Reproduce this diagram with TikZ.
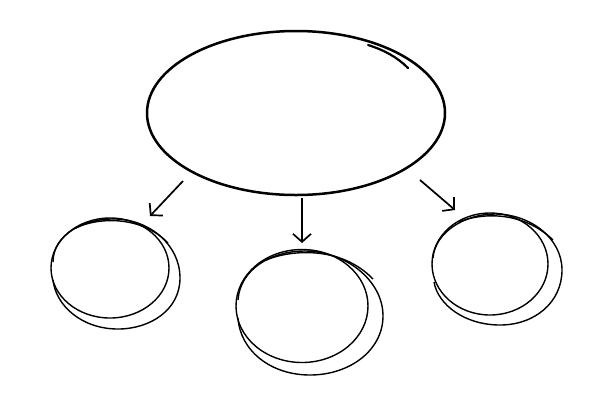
\documentclass[tikz,border=0pt]{standalone}
\usetikzlibrary{shapes.geometric,arrows.meta}
\begin{document}
\begin{tikzpicture}[x=1pt,y=-1pt,
  bigloop/.style={ellipse,draw,line width=2.5pt,inner sep=0pt},
  smallloop/.style={ellipse,draw,line width=1.4pt,inner sep=0pt},
  loopline/.style={line width=1.4pt},
  arr/.style={line width=1.7pt,-{Straight Barb[length=8pt,width=18pt,line width=1.7pt]}}]
\useasboundingbox[fill=white] (0,0) rectangle (612,408);
% main ellipse
\node[bigloop,minimum width=298pt,minimum height=164pt] (main) at (296,113) {};
\draw[line width=2.2pt,line cap=round] (368,45) .. controls (384,50) and (397,57) .. (408,68);
% left circle
\node[smallloop,minimum width=118pt,minimum height=100pt] (c1) at (110,268) {};
\draw[loopline] (53,262) .. controls (53,234) and (85,218) .. (116,219) .. controls (150,220) and (180,245) .. (180,278)
  .. controls (180,310) and (150,329) .. (118,329) .. controls (82,329) and (56,306) .. (53,280);
\draw[loopline] (76,228) .. controls (95,218) and (140,214) .. (168,243);
% middle circle
\node[smallloop,minimum width=132pt,minimum height=113pt] (c2) at (302,306) {};
\draw[loopline] (238,300) .. controls (240,270) and (270,251) .. (305,251) .. controls (345,251) and (383,280) .. (383,316)
  .. controls (383,350) and (350,375) .. (310,375) .. controls (270,375) and (240,350) .. (238,318);
\draw[loopline] (266,260) .. controls (290,250) and (340,245) .. (373,279);
% right circle
\node[smallloop,minimum width=116pt,minimum height=102pt] (c3) at (490,264) {};
\draw[loopline] (433,258) .. controls (435,232) and (465,214) .. (495,214) .. controls (530,214) and (562,238) .. (562,270)
  .. controls (562,302) and (535,325) .. (500,325) .. controls (465,325) and (438,305) .. (434,282);
\draw[loopline] (459,222) .. controls (480,213) and (522,210) .. (553,240);
% arrows
\coordinate (a1s) at (183,181); \coordinate (a1e) at (150,216);
\coordinate (a2s) at (302,198); \coordinate (a2e) at (302,243);
\coordinate (a3s) at (420,180); \coordinate (a3e) at (455,210);
\draw[arr] (a1s) -- (a1e);
\draw[arr] (a2s) -- (a2e);
\draw[arr] (a3s) -- (a3e);
\end{tikzpicture}
\end{document}
